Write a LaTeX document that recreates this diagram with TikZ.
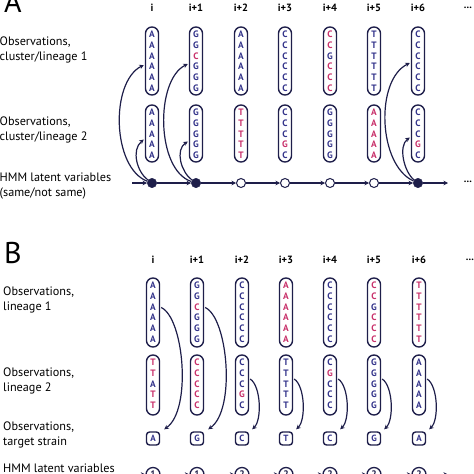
\documentclass[tikz,border=0pt]{standalone}
\usepackage{fontspec}
\setmainfont{PT Sans}
\usetikzlibrary{arrows.meta,calc}
\definecolor{navy}{HTML}{1E1E4A}
\definecolor{cb}{HTML}{33338A}
\definecolor{cr}{HTML}{C8306A}
\newcommand{\capsulenode}[5]{%
  \node[capsule, minimum height=#4-#3] (#1) at (#2,{(#3+#4)/2}) {};
  \foreach \cc/\ll [count=\k] in {#5} {
    \node[letter, text=\cc] at (#2,{#3+7.4+(\k-1)*10.7}) {\ll};
  }
}
\begin{document}
\begin{tikzpicture}[x=1pt,y=-1pt,
  capsule/.style={draw=navy, line width=1.4pt, rounded corners=6.4pt, minimum width=13pt, inner sep=0pt},
  letter/.style={font=\bfseries\fontsize{9.3}{9.3}\selectfont, inner sep=0pt},
  hdr/.style={font=\bfseries\fontsize{10.5}{11}\selectfont, text=black},
  lbl/.style={font=\fontsize{12.2}{15}\selectfont, anchor=west, align=left, inner sep=0pt},
  panel/.style={font=\fontsize{30}{30}\selectfont, anchor=base west, inner sep=0pt},
  conn/.style={draw=navy, line width=1.2pt, -{Stealth[length=4.5pt,width=4.5pt]}},
  fillc/.style={circle, fill=navy, draw=navy, minimum size=9.5pt, inner sep=0pt},
  openc/.style={circle, fill=white, draw=navy, line width=1pt, minimum size=9pt, inner sep=0pt},
  numc/.style={circle, fill=white, draw=navy, line width=1.3pt, minimum size=14pt, inner sep=0pt, font=\bfseries\fontsize{9.5}{9.5}\selectfont, text=navy},
  tbox/.style={draw=navy, line width=1.4pt, rounded corners=3pt, minimum size=13pt, inner sep=0pt, font=\bfseries\fontsize{9}{9}\selectfont, text=cb}
]
\useasboundingbox (0,0) rectangle (474,474);
\clip (0,0) rectangle (474,474);

% ---------------- Panel A ----------------
\node[panel] (pA) at (4,12) {A};
\foreach \x/\t [count=\n from 0] in {152/i,196/i+1,241/i+2,285/i+3,330/i+4,374/i+5,418/i+6}
  \node[hdr] (hA\n) at (\x,8) {\t};
\node[hdr] (hAdots) at (468,8) {...};

\node[lbl] (lA1) at (-0.5,50) {Observations,\\cluster/lineage 1};
\node[lbl] (lA2) at (-0.5,130) {Observations,\\cluster/lineage 2};
\node[lbl] (lA3) at (-0.5,186) {HMM latent variables\\(same/not same)};

\capsulenode{a1-0}{152}{27}{95}{cb/A,cb/A,cb/A,cb/A,cb/A,cb/A}
\capsulenode{a1-1}{196}{27}{95}{cb/G,cb/G,cr/C,cb/G,cb/G,cb/G}
\capsulenode{a1-2}{241}{27}{95}{cb/A,cb/A,cb/A,cb/A,cb/A,cb/A}
\capsulenode{a1-3}{285}{27}{95}{cb/C,cb/C,cb/C,cb/C,cb/C,cb/C}
\capsulenode{a1-4}{330}{27}{95}{cr/C,cr/C,cb/G,cr/C,cr/C,cr/C}
\capsulenode{a1-5}{374}{27}{95}{cb/T,cb/T,cb/T,cb/T,cb/T,cb/T}
\capsulenode{a1-6}{418}{27}{95}{cb/C,cb/C,cb/C,cb/C,cb/C,cb/C}

\capsulenode{a2-0}{152}{105}{162}{cb/A,cb/A,cb/A,cb/A,cb/A}
\capsulenode{a2-1}{196}{105}{162}{cb/G,cb/G,cb/G,cb/G,cb/G}
\capsulenode{a2-2}{241}{105}{162}{cr/T,cr/T,cr/T,cr/T,cr/T}
\capsulenode{a2-3}{285}{105}{162}{cb/C,cb/C,cb/C,cr/G,cb/C}
\capsulenode{a2-4}{330}{105}{162}{cb/G,cb/G,cb/G,cb/G,cb/G}
\capsulenode{a2-5}{374}{105}{162}{cr/A,cr/A,cr/A,cr/A,cr/A}
\capsulenode{a2-6}{418}{105}{162}{cb/C,cb/C,cb/C,cr/G,cb/C}

\coordinate (haS) at (132,183);
\coordinate (haE) at (448,183);
\node[fillc] (ha0) at (152,183) {};
\node[fillc] (ha1) at (196,183) {};
\node[openc] (ha2) at (241,183) {};
\node[openc] (ha3) at (285,183) {};
\node[openc] (ha4) at (330,183) {};
\node[openc] (ha5) at (374,183) {};
\node[fillc] (ha6) at (418,183) {};
\draw[conn] (haS) -- (ha0);
\draw[conn] (ha0) -- (ha1);
\draw[conn] (ha1) -- (ha2);
\draw[conn] (ha2) -- (ha3);
\draw[conn] (ha3) -- (ha4);
\draw[conn] (ha4) -- (ha5);
\draw[conn] (ha5) -- (ha6);
\draw[conn] (ha6) -- (haE);
\node[font=\bfseries\fontsize{10.5}{11}\selectfont] (dotsA) at (468,182) {...};

\draw[conn] (ha0) .. controls (112,168) and (110,82) .. ($(a1-0.west)+(-1,4)$);
\draw[conn] (ha0) .. controls (137,172) and (131,150) .. ($(a2-0.west)+(-1,6)$);
\draw[conn] (ha1) .. controls (156,170) and (155,80) .. ($(a1-1.west)+(-1,3)$);
\draw[conn] (ha1) .. controls (181,172) and (175,150) .. ($(a2-1.west)+(-1,8)$);
\draw[conn] (ha6) .. controls (378,165) and (375,80) .. ($(a1-6.west)+(-1,2)$);
\draw[conn] (ha6) .. controls (404,172) and (398,146) .. ($(a2-6.west)+(-1,4)$);

% ---------------- Panel B ----------------
\node[panel] (pB) at (4,263) {B};
\foreach \x/\t [count=\n from 0] in {153/i,197/i+1,242/i+2,286/i+3,330/i+4,374/i+5,419/i+6}
  \node[hdr] (hB\n) at (\x,260) {\t};
\node[hdr] (hBdots) at (470,260) {...};

\node[lbl] (lB1) at (3,300) {Observations,\\lineage 1};
\node[lbl] (lB2) at (3,381) {Observations,\\lineage 2};
\node[lbl] (lB3) at (3,435) {Observations,\\target strain};
\node[lbl, anchor=base west] (lB4) at (3,472.5) {HMM latent variables};

\capsulenode{b1-0}{153}{278}{347}{cb/A,cb/A,cb/A,cb/A,cb/A,cb/A}
\capsulenode{b1-1}{197}{278}{347}{cb/G,cb/G,cr/C,cb/G,cb/G,cb/G}
\capsulenode{b1-2}{242}{278}{347}{cb/C,cb/C,cb/C,cb/C,cb/C,cb/C}
\capsulenode{b1-3}{286}{278}{347}{cr/A,cr/A,cr/A,cr/A,cr/A,cr/A}
\capsulenode{b1-4}{330}{278}{347}{cb/C,cb/C,cb/C,cb/C,cb/C,cb/C}
\capsulenode{b1-5}{374}{278}{347}{cr/C,cr/C,cb/G,cr/C,cr/C,cr/C}
\capsulenode{b1-6}{419}{278}{347}{cr/T,cr/T,cr/T,cr/T,cr/T,cr/T}

\capsulenode{b2-0}{153}{355}{415}{cr/T,cr/T,cb/A,cr/T,cr/T}
\capsulenode{b2-1}{197}{355}{415}{cr/C,cr/C,cr/C,cr/C,cr/C}
\capsulenode{b2-2}{242}{355}{415}{cb/C,cb/C,cb/C,cr/G,cb/C}
\capsulenode{b2-3}{286}{355}{415}{cb/T,cb/T,cb/T,cb/T,cb/T}
\capsulenode{b2-4}{330}{355}{415}{cb/C,cr/G,cb/C,cb/C,cb/C}
\capsulenode{b2-5}{374}{355}{415}{cb/G,cb/G,cb/G,cb/G,cb/G}
\capsulenode{b2-6}{419}{355}{415}{cb/A,cb/A,cb/A,cb/A,cb/A}

\foreach \x/\t [count=\n from 0] in {153/A,197/G,242/C,286/T,330/C,374/G,419/A}
  \node[tbox] (t-\n) at (\x,438.5) {\t};

\draw[conn] ($(b1-0.east)+(1,-5)$) .. controls (184,318) and (192,410) .. ($(t-0.north east)+(4,-2)$);
\draw[conn] ($(b1-1.east)+(1,-5)$) .. controls (228,318) and (236,410) .. ($(t-1.north east)+(4,-2)$);
\foreach \x [count=\n from 2] in {242,286,330,374,419}
  \draw[conn] ($(b2-\n.east)+(1,-6)$) .. controls (\x+19,386) and (\x+20,420) .. ($(t-\n.north east)+(3,-2)$);

\coordinate (hbS) at (132,474.5);
\coordinate (hbE) at (448,474.5);
\foreach \x/\t [count=\n from 0] in {153/1,197/1,242/2,286/2,330/2,374/2,419/2}
  \node[numc] (hb\n) at (\x,474.5) {\t};
\draw[conn] (hbS) -- (hb0);
\draw[conn] (hb0) -- (hb1);
\draw[conn] (hb1) -- (hb2);
\draw[conn] (hb2) -- (hb3);
\draw[conn] (hb3) -- (hb4);
\draw[conn] (hb4) -- (hb5);
\draw[conn] (hb5) -- (hb6);
\draw[conn] (hb6) -- (hbE);
\end{tikzpicture}
\end{document}
